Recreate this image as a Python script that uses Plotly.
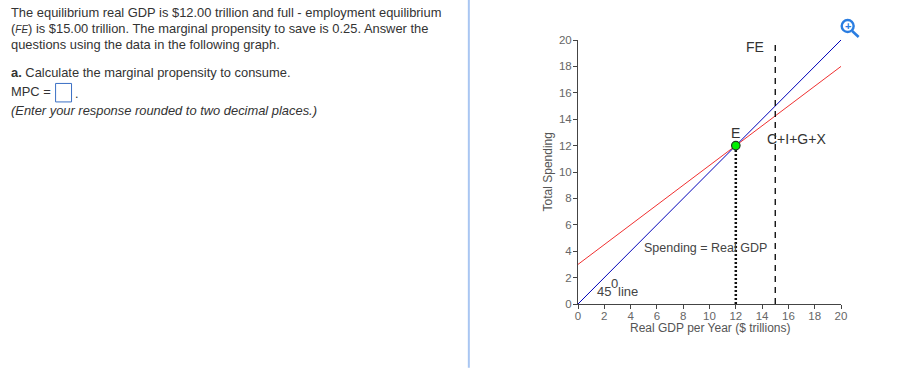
import plotly.graph_objects as go

W, H = 918, 368
L, R, T, B = 577.5, 841.3, 40.0, 304.3

line45_x = [0, 20]
line45_y = [0, 20]
aggregate_x = [0, 20]
aggregate_y = [3, 18]
fe_x = [15, 15]
fe_y = [0, 20]
eq_drop_x = [12, 12]
eq_drop_y = [0, 12]
eq_x = [12]
eq_y = [12]
ticks = list(range(0, 21, 2))

question_lines = [
    ("The equilibrium real GDP is $12.00 trillion and full - employment equilibrium", 12.5),
    ("(<i><span style='font-size:10px'>FE</span></i>) is $15.00 trillion. The marginal propensity to save is 0.25. Answer the", 28.5),
    ("questions using the data in the following graph.", 44.5),
    ("<b>a.</b> Calculate the marginal propensity to consume.", 73),
    ("MPC =", 92),
    ("<i>(Enter your response rounded to two decimal places.)</i>", 111),
]
chart_labels = [
    ("FE", 755, 47, 14, "#333333"),
    ("E", 735, 133, 14, "#333333"),
    ("C+I+G+X", 797, 139, 14, "#333333"),
    ("Spending = Real GDP", 705.5, 248, 12.5, "#444444"),
    ("line", 628, 292, 13, "#444444"),
    ("45", 603.5, 292, 13, "#444444"),
    ("0", 614, 284, 13, "#444444"),
]

def px(x):
    return (x - L) / (R - L)

def py(y):
    return (B - y) / (B - T)

fig = go.Figure()
fig.add_trace(go.Scatter(x=aggregate_x, y=aggregate_y, mode="lines", line=dict(color="#f03030", width=1), hoverinfo="skip"))
fig.add_trace(go.Scatter(x=line45_x, y=line45_y, mode="lines", line=dict(color="#0000b8", width=1), hoverinfo="skip"))
fig.add_trace(go.Scatter(x=fe_x, y=fe_y, mode="lines", line=dict(color="#000000", width=1.3, dash="6px,5px"), hoverinfo="skip"))
fig.add_trace(go.Scatter(x=eq_drop_x, y=eq_drop_y, mode="lines", line=dict(color="#111111", width=2.5, dash="2px,2px"), hoverinfo="skip"))
fig.add_trace(go.Scatter(x=eq_x, y=eq_y, mode="markers", marker=dict(color="#00f000", size=8.5, line=dict(color="#1c3c1c", width=1.2)), hoverinfo="skip"))

annotations = []
for text, y in question_lines:
    annotations.append(dict(text=text, x=px(7), y=py(y), xref="paper", yref="paper", xanchor="left", yanchor="middle",
                            showarrow=False, font=dict(family="Liberation Sans, Arial", size=12.9, color="#333333")))
annotations.append(dict(text=".", x=px(71), y=py(94), xref="paper", yref="paper", xanchor="left", yanchor="middle",
                        showarrow=False, font=dict(family="Liberation Sans, Arial", size=12.5, color="#333333")))
for text, x, y, size, color in chart_labels:
    annotations.append(dict(text=text, x=px(x), y=py(y), xref="paper", yref="paper", xanchor="center", yanchor="middle",
                            showarrow=False, font=dict(family="Liberation Sans, Arial", size=size, color=color)))
annotations.append(dict(text="Total Spending", x=px(547), y=py(172), xref="paper", yref="paper", xanchor="center", yanchor="middle",
                        textangle=-90, showarrow=False, font=dict(family="Liberation Sans, Arial", size=12, color="#555555")))
annotations.append(dict(text="Real GDP per Year ($ trillions)", x=px(710), y=py(328), xref="paper", yref="paper", xanchor="center", yanchor="middle",
                        showarrow=False, font=dict(family="Liberation Sans, Arial", size=12, color="#555555")))
annotations.append(dict(text="<b>+</b>", x=px(848), y=py(26), xref="paper", yref="paper", xanchor="center", yanchor="middle",
                        showarrow=False, font=dict(family="Liberation Sans, Arial", size=11, color="#2a7de1")))

shapes = [
    dict(type="line", xref="paper", yref="paper", x0=px(468), x1=px(468), y0=py(0), y1=py(H), line=dict(color="#a9c6f2", width=2)),
    dict(type="rect", xref="paper", yref="paper", x0=px(53.5), x1=px(69.5), y0=py(102), y1=py(83.5), line=dict(color="#3a6fc4", width=1)),
    dict(type="circle", xref="paper", yref="paper", x0=px(842), x1=px(854), y0=py(32), y1=py(20), line=dict(color="#2a7de1", width=2.4)),
    dict(type="line", xref="paper", yref="paper", x0=px(852.5), x1=px(859), y0=py(31), y1=py(37), line=dict(color="#2a7de1", width=2.6)),
]

axis = dict(range=[0, 20], tickvals=ticks, showgrid=False, zeroline=False, showline=True, linecolor="#444444", linewidth=1,
            ticks="outside", ticklen=4, tickcolor="#444444", tickfont=dict(family="Liberation Sans, Arial", size=11.5, color="#666666"))
fig.update_layout(
    width=W, height=H, autosize=False, showlegend=False, plot_bgcolor="white", paper_bgcolor="white",
    margin=dict(l=L, r=W - R, t=T, b=H - B), xaxis=dict(axis, ticklabelstandoff=-3), yaxis=dict(axis, ticklabelstandoff=-1),
    annotations=annotations, shapes=shapes,
)
fig.write_html("out.html", config=dict(displayModeBar=False),
               post_script="document.body.style.margin='0';document.body.style.overflow='hidden';")
